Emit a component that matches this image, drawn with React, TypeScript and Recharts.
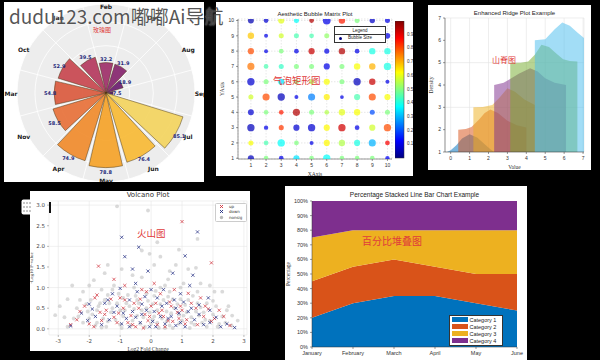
import React from "react";
import {
  RadialBarChart,
  RadialBar,
  PolarAngleAxis,
  PolarRadiusAxis,
  PolarGrid,
  ScatterChart,
  Scatter,
  ComposedChart,
  AreaChart,
  Area,
  XAxis,
  YAxis,
  ZAxis,
  CartesianGrid,
  ReferenceArea,
  LabelList,
  Cell,
} from "recharts";

// ---------- rose chart ----------
const roseMonths = ["Sep", "Aug", "Dec", "Feb", "Jan", "Oct", "Mar", "Nov", "Apr", "May", "Jun", "Jul"];
const roseValues = [7.5, 18.9, 31.9, 32.2, 39.5, 52.9, 54.8, 58.5, 74.9, 78.8, 76.4, 85.1];
const roseColors = [
  "#4b1369", "#6a1c70", "#86256e", "#9e2f69", "#b43a5e", "#c8474f",
  "#da5a3e", "#e7713a", "#f08b2c", "#f5a329", "#f7ba35", "#f3d45e",
];

// ---------- bubble matrix (rows from y = 10 down to y = 1) ----------
const bubbleColor = [
  [0.05, 0.08, 0.6, 0.38, 0.95, 0.1, 0.85, 0.5, 0.07, 0.1],
  [0.68, 0.1, 0.58, 0.45, 0.45, 0.52, 0.92, 0.5, 0.48, 0.1],
  [0.8, 0.1, 0.5, 0.1, 0.93, 0.1, 0.95, 0.1, 0.4, 0.4],
  [0.76, 0.45, 0.43, 0.5, 0.5, 0.1, 0.5, 0.62, 0.7, 0.4],
  [0.08, 0.5, 0.35, 0.5, 0.55, 0.62, 0.5, 0.06, 0.93, 0.1],
  [0.58, 0.8, 0.06, 0.1, 0.25, 0.64, 0.1, 0.45, 0.8, 0.62],
  [0.08, 0.5, 0.85, 0.95, 0.5, 0.55, 0.6, 0.62, 0.2, 0.5],
  [0.06, 0.1, 0.82, 0.08, 0.08, 0.63, 0.92, 0.1, 0.58, 0.8],
  [0.62, 0.45, 0.38, 0.5, 0.1, 0.63, 0.55, 0.4, 0.3, 0.88],
  [0.06, 0.5, 0.1, 0.35, 0.5, 0.38, 0.5, 0.5, 0.5, 0.12],
];
const bubbleSize = [
  [0.45, 0.25, 0.5, 0.3, 0.25, 0.85, 0.55, 0.3, 0.35, 0.3],
  [0.55, 0.15, 0.3, 0.3, 0.25, 0.3, 0.25, 0.3, 0.3, 0.4],
  [0.5, 0.15, 0.25, 0.25, 0.5, 0.3, 0.55, 0.25, 0.55, 0.55],
  [0.7, 0.25, 0.3, 0.3, 0.3, 0.5, 0.3, 0.55, 0.55, 0.75],
  [0.75, 0.3, 0.5, 0.3, 0.3, 0.5, 0.3, 0.75, 0.55, 0.15],
  [0.3, 0.7, 0.75, 0.15, 0.7, 0.5, 0.12, 0.5, 0.7, 0.5],
  [0.45, 0.25, 0.25, 0.7, 0.3, 0.25, 0.55, 0.55, 0.3, 0.3],
  [0.75, 0.2, 0.3, 0.5, 0.75, 0.5, 0.75, 0.25, 0.5, 0.75],
  [0.3, 0.25, 0.75, 0.25, 0.15, 0.5, 0.55, 0.5, 0.7, 0.25],
  [0.5, 0.25, 0.25, 0.5, 0.25, 0.75, 0.25, 0.25, 0.25, 0.2],
];
const bubbleTicks = [1, 2, 3, 4, 5, 6, 7, 8, 9, 10];
const colorbarTicks = [0.1, 0.2, 0.3, 0.4, 0.5, 0.6, 0.7, 0.8, 0.9];

// ---------- ridge plot ----------
const ridgeXs = [
  [-0.2, 0, 0.3, 0.6, 1.0, 1.4, 1.8, 2.1, 2.3],
  [0.4, 0.4, 0.8, 1.1, 1.5, 1.8, 2.1, 2.5, 3.0, 3.5, 4.0, 4.0],
  [1.2, 1.2, 1.7, 2.2, 2.6, 3.0, 3.4, 3.9, 4.45, 4.45],
  [2.3, 2.3, 2.8, 3.1, 3.6, 4.2, 4.6, 5.0, 5.5, 6.1, 6.1],
  [3.15, 3.15, 3.7, 4.1, 4.45, 4.8, 5.2, 5.6, 5.95, 6.3, 6.7, 6.7],
  [4.45, 4.45, 5.0, 5.5, 5.9, 6.3, 6.7, 7.05, 7.05],
];
const ridgeYs = [
  [1, 1.08, 1.3, 1.6, 1.8, 1.65, 1.35, 1.12, 1],
  [1, 2.0, 2.03, 2.12, 2.45, 2.75, 2.9, 2.75, 2.4, 2.2, 2.1, 1],
  [1, 3.0, 3.02, 3.1, 3.45, 3.85, 3.7, 3.35, 3.1, 1],
  [1, 4.0, 4.1, 4.25, 4.5, 4.75, 4.6, 4.3, 4.1, 4.0, 1],
  [1, 5.0, 5.0, 5.05, 5.35, 5.8, 5.7, 5.4, 5.15, 5.08, 5.05, 1],
  [1, 6.0, 6.05, 6.5, 6.8, 6.65, 6.35, 6.1, 1],
];
const ridgeColors = ["#0072BD", "#D95319", "#EDB120", "#7E2F8E", "#77AC30", "#4DBEEE"];
const ridgeXTicks = [0, 1, 2, 3, 4, 5, 6, 7];
const ridgeYTicks = [1, 2, 3, 4, 5, 6, 7];

// ---------- volcano ----------
const volcanoNonsig = [
  [-1.1, 2.97], [-0.1, 2.87], [1.5, 2.18], [0.2, 2.1], [-0.05, 1.82], [-0.3, 1.9], [0.3, 1.75], [0.9, 1.92],
  [0.8, 1.55], [-1.4, 1.55], [-0.95, 1.45], [-1.5, 1.35], [1.45, 1.48], [1.9, 1.05], [2.0, 0.68], [-2.0, 1.05],
  [-2.55, 1.05], [-2.7, 0.72], [-2.95, 0.55], [-3.1, 0.33], [-2.8, 0.28], [2.5, 0.55], [2.62, 0.32], [2.8, 0.2],
  [2.3, 0.9], [-2.2, 0.9], [-1.85, 1.18], [1.2, 1.45], [0.55, 1.2], [-0.6, 1.3], [0.1, 1.55], [-1.2, 1.05],
  [0.6, 1.4], [1.6, 1.1], [-0.3, 1.25], [0.45, 1.05], [-1.6, 0.95], [1.05, 1.1],
  [-2.4, 0.5], [-2.1, 0.6], [-1.9, 0.35], [-1.7, 0.55], [-1.5, 0.7], [-1.3, 0.4], [-1.1, 0.62], [-0.9, 0.3],
  [-0.7, 0.55], [-0.5, 0.8], [-0.3, 0.45], [-0.1, 0.68], [0.1, 0.3], [0.3, 0.6], [0.5, 0.42], [0.7, 0.72],
  [0.9, 0.35], [1.1, 0.58], [1.3, 0.28], [1.5, 0.62], [1.7, 0.4], [1.9, 0.2], [2.1, 0.55], [2.3, 0.3],
  [-2.2, 0.15], [-1.8, 0.08], [-1.4, 0.18], [-1.0, 0.1], [-0.6, 0.2], [-0.2, 0.05], [0.2, 0.15], [0.6, 0.08],
  [1.0, 0.2], [1.4, 0.1], [1.8, 0.05], [2.2, 0.12], [-1.55, 0.25], [-1.25, 0.5], [-0.85, 0.45], [-0.45, 0.32],
  [-0.05, 0.4], [0.35, 0.25], [0.75, 0.5], [1.15, 0.4], [1.55, 0.32], [-0.15, 0.85], [0.15, 0.92], [0.55, 0.78],
  [-0.75, 0.82], [-1.05, 0.85], [0.95, 0.72], [1.35, 0.8], [-1.95, 0.7], [2.05, 0.9], [-2.5, 0.25], [2.45, 0.45],
  [-0.35, 0.12], [0.05, 0.22], [0.45, 0.02], [-0.95, 0.02], [1.25, 0.02], [-1.6, 0.03], [1.65, 0.15], [-2.0, 0.25],
  [-2.3, 0.7], [-2.05, 0.42], [-1.75, 0.15], [-1.65, 0.62], [-1.45, 0.05], [-1.35, 0.62], [-1.15, 0.22], [-1.0, 0.45],
  [-0.8, 0.62], [-0.65, 0.08], [-0.55, 0.48], [-0.4, 0.62], [-0.25, 0.28], [-0.15, 0.5], [0.0, 0.12], [0.05, 0.6],
  [0.2, 0.45], [0.25, 0.02], [0.4, 0.7], [0.5, 0.18], [0.65, 0.38], [0.7, 0.02], [0.85, 0.6], [0.9, 0.12],
  [1.05, 0.32], [1.2, 0.7], [1.3, 0.15], [1.45, 0.42], [1.6, 0.52], [1.75, 0.22], [2.0, 0.35], [2.15, 0.05],
  [2.4, 0.15], [-2.7, 0.05], [-1.25, 0.95], [-0.55, 1.0], [0.3, 1.0], [0.95, 1.0], [-1.75, 0.45], [1.8, 0.62],
  [-0.9, 0.75], [0.1, 0.8], [-0.45, 0.7], [0.6, 0.9], [1.5, 0.9], [-1.4, 0.82], [-2.35, 0.3], [2.6, 0.08],
];
const volcanoUp = [
  [1.0, 2.6], [-1.7, 1.52], [1.95, 1.6], [-1.75, 0.82], [-1.82, 0.75], [-0.3, 0.95], [-0.15, 0.9], [0.3, 0.85],
  [1.2, 0.86], [-1.2, 1.2], [-1.0, 0.75], [2.2, 0.45], [-2.3, 0.42], [-2.6, 0.1], [2.55, 0.08], [0.1, 1.1],
  [-0.55, 0.62], [0.65, 0.55], [1.45, 0.5], [-1.45, 0.45], [-0.9, 0.5], [0.85, 0.4], [-0.2, 0.35], [0.4, 0.3],
  [1.7, 0.3], [-1.6, 0.2], [-2.0, 0.12], [1.95, 0.18], [-0.75, 0.15], [0.2, 0.1], [1.1, 0.12], [-1.2, 0.28],
  [0.55, 0.2], [-0.4, 0.5], [1.3, 0.62], [-1.3, 0.72], [0.0, 0.55], [-0.65, 0.32], [0.9, 0.25], [2.35, 0.3],
  [-2.15, 0.55], [1.6, 0.75], [-0.1, 0.2], [0.75, 0.95], [-0.85, 1.05], [0.35, 0.45], [-1.05, 0.38], [1.85, 0.48],
  [-0.5, 0.05], [0.6, 0.65], [-1.5, 0.35], [-1.1, 0.15], [-0.85, 0.7], [-0.6, 0.1], [-0.35, 0.72], [-0.05, 0.3],
  [0.15, 0.62], [0.45, 0.05], [0.7, 0.18], [1.0, 0.45], [1.15, 0.22], [1.5, 0.1], [1.75, 0.55], [2.05, 0.25],
  [-1.85, 0.05], [-2.4, 0.22], [0.25, 0.38], [-0.25, 0.02], [0.95, 0.55], [-1.65, 0.4],
];
const volcanoDown = [
  [1.5, 2.35], [-0.95, 2.22], [-0.4, 1.98], [1.1, 1.77], [-0.85, 1.75], [-0.6, 1.45], [-0.1, 1.4], [0.7, 1.35],
  [1.35, 1.3], [-0.5, 1.1], [-1.0, 0.98], [0.0, 0.95], [0.95, 0.85], [1.85, 0.75], [1.9, 0.45], [-2.25, 0.38],
  [-2.6, 0.07], [2.45, 0.12], [2.7, 0.03], [-1.5, 0.62], [-1.1, 0.55], [-0.7, 0.7], [-0.3, 0.6], [0.2, 0.75],
  [0.5, 0.62], [0.8, 0.5], [1.2, 0.42], [1.55, 0.58], [-1.8, 0.3], [-1.35, 0.22], [-0.8, 0.25], [-0.35, 0.15],
  [0.1, 0.42], [0.45, 0.12], [0.95, 0.15], [1.4, 0.22], [-1.9, 0.48], [-0.05, 0.05], [0.3, 0.3], [-0.6, 0.42],
  [0.65, 0.3], [1.05, 0.65], [-1.25, 0.85], [-0.2, 0.78], [1.7, 0.1], [-2.05, 0.2], [2.1, 0.28], [0.8, 0.08],
  [-0.95, 0.12], [-0.45, 0.9], [0.4, 0.95], [1.25, 1.05], [-1.6, 0.1], [-1.2, 0.4], [-0.9, 0.38], [-0.7, 0.05],
  [-0.5, 0.28], [-0.15, 0.45], [0.05, 0.18], [0.35, 0.55], [0.55, 0.25], [0.75, 0.7], [1.1, 0.05], [1.3, 0.5],
  [1.55, 0.35], [1.9, 0.15], [-2.0, 0.6], [-1.4, 0.7], [0.15, 0.05], [-0.3, 0.35], [0.9, 0.38], [2.25, 0.05],
];
const volcanoXTicks = [-3, -2, -1, 0, 1, 2, 3];
const volcanoYTicks = [0, 0.5, 1, 1.5, 2, 2.5, 3];

// ---------- percentage stacked area ----------
const stackMonths = ["January", "February", "March", "April", "May", "June"];
const category1 = [20, 30, 35, 35, 30, 25];
const category2 = [25, 25, 25, 20, 20, 25];
const category3 = [30, 25, 20, 25, 30, 30];
const category4 = [25, 20, 20, 20, 20, 20];
const stackNames = ["Category 1", "Category 2", "Category 3", "Category 4"];
const stackColors = ["#0072BD", "#D95319", "#EDB120", "#7E2F8E"];
const percentTicks = [0, 0.1, 0.2, 0.3, 0.4, 0.5, 0.6, 0.7, 0.8, 0.9, 1];

const RED = "#df3b3b";
const CJK = "'Noto Sans CJK SC', sans-serif";
const MATLAB_FONT = "'Liberation Sans', Arial, sans-serif";

const panel = (left: number, top: number, width: number, height: number): React.CSSProperties => ({
  position: "absolute",
  left,
  top,
  width,
  height,
  background: "#fff",
  overflow: "hidden",
});

const tag = (left: number, top: number, size: number): React.CSSProperties => ({
  position: "absolute",
  left,
  top,
  fontSize: size,
  color: RED,
  fontFamily: CJK,
  lineHeight: 1,
  whiteSpace: "nowrap",
});

const jet = (v: number) => {
  const c = (t: number) => Math.round(Math.max(0, Math.min(1, t)) * 255);
  return `rgb(${c(1.5 - Math.abs(4 * v - 3))},${c(1.5 - Math.abs(4 * v - 2))},${c(1.5 - Math.abs(4 * v - 1))})`;
};

// ---------- panel 1 ----------
const ROSE_CX = 102;
const ROSE_CY = 91;
const ROSE_BAND = 360 / roseMonths.length;

const RoseTick = (props: any) => {
  // tick coordinate sits at the band start, labels go to the band centre
  const a = ((props.payload.coordinate + ROSE_BAND / 2) * Math.PI) / 180;
  const x = ROSE_CX + 95 * Math.cos(a);
  const y = ROSE_CY - 87 * Math.sin(a);
  return (
    <text x={x} y={y} textAnchor="middle" dominantBaseline="central" fontSize={6} fontWeight="bold" fill="#222" fontFamily="DejaVu Sans">
      {props.payload.value}
    </text>
  );
};

const RoseValueLabel = (props: any) => {
  const vb = props.viewBox && props.viewBox.cx != null ? props.viewBox : props;
  if (vb.startAngle == null) return null;
  const mid = (((vb.startAngle + vb.endAngle) / 2) * Math.PI) / 180;
  const r = vb.outerRadius + 4;
  return (
    <text x={vb.cx + r * Math.cos(mid)} y={vb.cy - r * Math.sin(mid)} textAnchor="middle" dominantBaseline="central" fontSize={5} fontWeight="bold" fill="#25287a" fontFamily="DejaVu Sans">
      {Number(props.value).toFixed(1)}
    </text>
  );
};

function RosePanel() {
  const data = roseMonths.map((m, i) => ({ month: m, value: roseValues[i] }));
  return (
    <div style={panel(4, 2, 200, 180)}>
      <div style={{ position: "absolute", left: ROSE_CX - 89, top: ROSE_CY - 89, width: 178, height: 178, borderRadius: "50%", background: "#ededed" }} />
      <div style={{ position: "absolute", left: 0, top: 0 }}>
        <RadialBarChart
          width={200}
          height={180}
          data={data}
          cx={ROSE_CX}
          cy={ROSE_CY}
          innerRadius={0}
          outerRadius={89}
          startAngle={15}
          endAngle={375}
          layout="centric"
          barCategoryGap="6%"
          margin={{ top: 0, right: 0, bottom: 0, left: 0 }}
        >
          <PolarGrid gridType="circle" stroke="#ffffff" strokeWidth={0.8} />
          <PolarAngleAxis type="category" dataKey="month" tick={RoseTick} tickLine={false} axisLine={false} tickSize={1} />
          <PolarRadiusAxis type="number" domain={[0, 94]} tick={false} axisLine={false} />
          <RadialBar dataKey="value" isAnimationActive={false} stroke="#4a3410" strokeOpacity={0.6} strokeWidth={0.8} fillOpacity={0.92}>
            {data.map((d, i) => (
              <Cell key={d.month} fill={roseColors[i]} />
            ))}
            <LabelList dataKey="value" content={RoseValueLabel} />
          </RadialBar>
        </RadialBarChart>
      </div>
      <div style={tag(89, 25, 6)}>玫瑰图</div>
    </div>
  );
}

// ---------- panel 2 ----------
function BubblePanel() {
  const points = bubbleColor.flatMap((row, r) =>
    row.map((c, col) => ({ x: col + 1, y: 10 - r, c, s: bubbleSize[r][col] }))
  );
  const axisTick = { fontSize: 5, fill: "#333", fontFamily: MATLAB_FONT };
  return (
    <div style={panel(216, 2, 197, 174)}>
      <div style={{ position: "absolute", left: 0, width: 198, top: 9, textAlign: "center", fontSize: 6, fontFamily: MATLAB_FONT, color: "#222", lineHeight: 1 }}>
        Aesthetic Bubble Matrix Plot
      </div>
      <div style={{ position: "absolute", left: 0, top: 0 }}>
        <ScatterChart width={197} height={174} margin={{ top: 17, right: 21, bottom: 0, left: 0 }}>
          <CartesianGrid stroke="#cfcfcf" strokeDasharray="1.5 1.5" strokeWidth={0.5} />
          <XAxis
            type="number"
            dataKey="x"
            domain={[0.15, 10.3]}
            ticks={bubbleTicks}
            allowDataOverflow
            height={17}
            tick={axisTick}
            tickSize={2}
            axisLine={{ stroke: "#333", strokeWidth: 0.5 }}
            tickLine={{ stroke: "#333", strokeWidth: 0.5 }}
            label={{ value: "XAxis", position: "insideBottom", offset: 0, fontSize: 5.5, fill: "#333" }}
          />
          <YAxis
            type="number"
            dataKey="y"
            domain={[0.95, 10.1]}
            ticks={bubbleTicks}
            allowDataOverflow
            width={22}
            tick={axisTick}
            tickSize={2}
            axisLine={{ stroke: "#333", strokeWidth: 0.5 }}
            tickLine={{ stroke: "#333", strokeWidth: 0.5 }}
            label={{ value: "YAxis", angle: -90, position: "insideLeft", offset: 6, fontSize: 5.5, fill: "#333", style: { textAnchor: "middle" } }}
          />
          <ZAxis type="number" dataKey="s" domain={[0, 1]} range={[5, 55]} />
          <ReferenceArea fill="none" stroke="#333" strokeWidth={0.5} ifOverflow="visible" />
          <Scatter data={points} isAnimationActive={false} fillOpacity={0.72}>
            {points.map((p, i) => (
              <Cell key={i} fill={jet(p.c)} />
            ))}
          </Scatter>
        </ScatterChart>
      </div>
      <svg style={{ position: "absolute", left: 179, top: 19 }} width={18} height={140}>
        <defs>
          <linearGradient id="jetbar" x1="0" y1="1" x2="0" y2="0">
            {[0, 0.125, 0.25, 0.375, 0.5, 0.625, 0.75, 0.875, 1].map((t) => (
              <stop key={t} offset={t} stopColor={jet(t)} />
            ))}
          </linearGradient>
        </defs>
        <rect x={0} y={0} width={9} height={137} fill="url(#jetbar)" stroke="#333" strokeWidth={0.5} />
      </svg>
      {colorbarTicks.map((t) => (
        <div key={t} style={{ position: "absolute", left: 191, top: 19 + 137 * (1 - t) - 3, fontSize: 4.5, fontFamily: MATLAB_FONT, color: "#333", lineHeight: "6px" }}>
          {t.toFixed(1)}
        </div>
      ))}
      <div style={{ position: "absolute", left: 118, top: 24, width: 50, height: 15, background: "#fff", border: "0.6px solid #333", fontFamily: MATLAB_FONT, fontSize: 4.5, color: "#222", lineHeight: 1 }}>
        <div style={{ textAlign: "center", height: 7, lineHeight: "7px", borderBottom: "0.6px solid #333" }}>Legend</div>
        <div style={{ display: "flex", alignItems: "center", height: 7, paddingLeft: 4 }}>
          <span style={{ width: 3, height: 3, borderRadius: "50%", background: "#00007f", display: "inline-block", marginRight: 6 }} />
          Bubble Size
        </div>
      </div>
      <div style={tag(57, 74, 9.5)}>气泡矩形图</div>
    </div>
  );
}

// ---------- panel 3 ----------
function RidgePanel() {
  const ridges = ridgeXs.map((xs, i) => xs.map((x, j) => ({ x, y: ridgeYs[i][j] })));
  const axisTick = { fontSize: 5, fill: "#333", fontFamily: MATLAB_FONT };
  return (
    <div style={panel(428, 5, 163, 165)}>
      <div style={{ position: "absolute", left: 17, width: 139, top: 5, textAlign: "center", fontSize: 6, fontFamily: MATLAB_FONT, color: "#222", lineHeight: 1 }}>
        Enhanced Ridge Plot Example
      </div>
      <div style={{ position: "absolute", left: 0, top: 0 }}>
        <ComposedChart width={163} height={165} margin={{ top: 13, right: 7, bottom: 0, left: 0 }}>
          <CartesianGrid stroke="#e2e2e2" strokeWidth={0.6} />
          <XAxis
            type="number"
            dataKey="x"
            domain={[-0.3, 7.05]}
            ticks={ridgeXTicks}
            allowDataOverflow
            height={18}
            tick={axisTick}
            tickSize={2}
            axisLine={{ stroke: "#333", strokeWidth: 0.5 }}
            tickLine={{ stroke: "#333", strokeWidth: 0.5 }}
            label={{ value: "Value", position: "insideBottom", offset: 1, fontSize: 5.5, fill: "#333" }}
          />
          <YAxis
            type="number"
            domain={[1, 7]}
            ticks={ridgeYTicks}
            allowDataOverflow
            width={17}
            tick={axisTick}
            tickSize={2}
            axisLine={{ stroke: "#333", strokeWidth: 0.5 }}
            tickLine={{ stroke: "#333", strokeWidth: 0.5 }}
            label={{ value: "Density", angle: -90, position: "insideLeft", offset: 3, fontSize: 5.5, fill: "#333", style: { textAnchor: "middle" } }}
          />
          {ridges.map((r, i) => (
            <Area
              key={i}
              data={r}
              dataKey="y"
              type="linear"
              baseValue={1}
              fill={ridgeColors[i]}
              fillOpacity={0.52}
              stroke="none"
              isAnimationActive={false}
            />
          ))}
          <ReferenceArea fill="none" stroke="#333" strokeWidth={0.5} ifOverflow="visible" />
        </ComposedChart>
      </div>
      <div style={tag(64, 51, 8)}>山脊图</div>
    </div>
  );
}

// ---------- panel 4 ----------
const makeX = (color: string) => (props: any) => {
  const { cx, cy } = props;
  const d = 1.6;
  return (
    <path d={`M${cx - d},${cy - d}L${cx + d},${cy + d}M${cx - d},${cy + d}L${cx + d},${cy - d}`} stroke={color} strokeWidth={0.9} strokeOpacity={0.8} fill="none" />
  );
};
const RedX = makeX("#d0313a");
const NavyX = makeX("#1f2a80");
const GrayDot = (props: any) => <circle cx={props.cx} cy={props.cy} r={1.9} fill="#b5b5b5" fillOpacity={0.5} />;

function VolcanoPanel() {
  const toPts = (arr: number[][]) => arr.map(([x, y]) => ({ x, y }));
  const axisTick = { fontSize: 5.5, fill: "#444", fontFamily: "DejaVu Sans" };
  return (
    <div style={panel(30, 191, 220, 160)}>
      <div style={{ position: "absolute", left: 19, width: 198, top: 1, textAlign: "center", fontSize: 7, fontFamily: "DejaVu Sans", color: "#333", lineHeight: 1 }}>
        Volcano Plot
      </div>
      <div style={{ position: "absolute", left: 0, top: 0 }}>
        <ScatterChart width={220} height={160} margin={{ top: 10, right: 3, bottom: 0, left: 0 }}>
          <CartesianGrid stroke="#e6e6e6" strokeWidth={0.6} />
          <XAxis
            type="number"
            dataKey="x"
            domain={[-3.3, 3.1]}
            ticks={volcanoXTicks}
            allowDataOverflow
            height={16}
            tick={axisTick}
            tickSize={2}
            axisLine={false}
            tickLine={{ stroke: "#777", strokeWidth: 0.5 }}
            label={{ value: "Log2 Fold Change", position: "insideBottom", offset: 0, fontSize: 5.5, fill: "#333" }}
          />
          <YAxis
            type="number"
            dataKey="y"
            domain={[-0.15, 3.1]}
            ticks={volcanoYTicks}
            tickFormatter={(v: number) => v.toFixed(1)}
            allowDataOverflow
            width={19}
            tick={axisTick}
            tickSize={2}
            axisLine={false}
            tickLine={{ stroke: "#777", strokeWidth: 0.5 }}
            label={{ value: "-Log10 P-value", angle: -90, position: "insideLeft", offset: 1, fontSize: 5, fill: "#333", style: { textAnchor: "middle" } }}
          />
          <ReferenceArea fill="none" stroke="#bdbdbd" strokeWidth={0.6} ifOverflow="visible" />
          <Scatter data={toPts(volcanoNonsig)} shape={GrayDot} isAnimationActive={false} />
          <Scatter data={toPts(volcanoUp)} shape={RedX} isAnimationActive={false} />
          <Scatter data={toPts(volcanoDown)} shape={NavyX} isAnimationActive={false} />
        </ScatterChart>
      </div>
      <div style={{ position: "absolute", left: 19, top: 11, width: 2, height: 11, background: "#111" }} />
      <div style={{ position: "absolute", left: 185, top: 12, width: 30, height: 17, background: "#fff", border: "0.6px solid #ccc", borderRadius: 1.5, fontFamily: "DejaVu Sans", fontSize: 4, color: "#333" }}>
        {[
          { name: "up", mark: <path d="M1,1L4,4M1,4L4,1" stroke="#d0313a" strokeWidth={0.9} /> },
          { name: "down", mark: <path d="M1,1L4,4M1,4L4,1" stroke="#1f2a80" strokeWidth={0.9} /> },
          { name: "nonsig", mark: <circle cx={2.5} cy={2.5} r={1.7} fill="#b9b9b9" /> },
        ].map((e) => (
          <div key={e.name} style={{ display: "flex", alignItems: "center", height: 5.3, paddingLeft: 3 }}>
            <svg width={5} height={5} style={{ marginRight: 5 }}>{e.mark}</svg>
            {e.name}
          </div>
        ))}
      </div>
      <div style={tag(107, 38, 9.5)}>火山图</div>
    </div>
  );
}

// ---------- panel 5 ----------
function StackPanel() {
  const data = stackMonths.map((m, i) => ({ month: m, c1: category1[i], c2: category2[i], c3: category3[i], c4: category4[i] }));
  const axisTick = { fontSize: 5.5, fill: "#333", fontFamily: MATLAB_FONT };
  return (
    <div style={panel(285, 186, 242, 174)}>
      <div style={{ position: "absolute", left: 27, width: 205, top: 6, textAlign: "center", fontSize: 6.5, fontFamily: MATLAB_FONT, color: "#222", lineHeight: 1 }}>
        Percentage Stacked Line Bar Chart Example
      </div>
      <div style={{ position: "absolute", left: 0, top: 0 }}>
        <AreaChart width={242} height={174} data={data} stackOffset="expand" margin={{ top: 15, right: 10, bottom: 0, left: 0 }}>
          <XAxis
            dataKey="month"
            interval={0}
            height={13}
            tick={axisTick}
            tickSize={2}
            axisLine={{ stroke: "#333", strokeWidth: 0.5 }}
            tickLine={{ stroke: "#333", strokeWidth: 0.5 }}
          />
          <YAxis
            type="number"
            domain={[0, 1]}
            ticks={percentTicks}
            tickFormatter={(v: number) => `${Math.round(v * 100)}%`}
            width={27}
            tick={axisTick}
            tickSize={2}
            axisLine={{ stroke: "#333", strokeWidth: 0.5 }}
            tickLine={{ stroke: "#333", strokeWidth: 0.5 }}
            label={{ value: "Percentage", angle: -90, position: "insideLeft", offset: 3, fontSize: 5.5, fill: "#333", style: { textAnchor: "middle" } }}
          />
          {["c1", "c2", "c3", "c4"].map((k, i) => (
            <Area
              key={k}
              type="linear"
              dataKey={k}
              stackId="pct"
              fill={stackColors[i]}
              fillOpacity={1}
              stroke="none"
              isAnimationActive={false}
            />
          ))}
          <ReferenceArea fill="none" stroke="#333" strokeWidth={0.5} ifOverflow="visible" />
        </AreaChart>
      </div>
      <div style={{ position: "absolute", left: 164, top: 129, width: 52, height: 29, background: "#fff", border: "0.7px solid #333", fontFamily: MATLAB_FONT, fontSize: 5.5, color: "#222" }}>
        {stackNames.map((n, i) => (
          <div key={n} style={{ display: "flex", alignItems: "center", height: 7, paddingLeft: 1.5 }}>
            <span style={{ width: 16, height: 5.5, background: stackColors[i], display: "inline-block", marginRight: 2 }} />
            {n}
          </div>
        ))}
      </div>
      <div style={tag(77, 50, 10)}>百分比堆叠图</div>
    </div>
  );
}

export default function App() {
  return (
    <div style={{ position: "absolute", left: 0, top: 0, width: 600, height: 360, background: "#000", overflow: "hidden" }}>
      <RosePanel />
      <BubblePanel />
      <RidgePanel />
      <VolcanoPanel />
      <StackPanel />
      <svg style={{ position: "absolute", left: 21, top: 199 }} width={12} height={16}>
        <rect x={0.5} y={0.5} width={11} height={15} rx={2} fill="#fff" />
        {[0, 1, 2].map((r) =>
          [0, 1, 2].map((c) => <circle key={`${r}-${c}`} cx={3 + c * 3} cy={4 + r * 4} r={0.7} fill="#666" />)
        )}
      </svg>
      <div
        style={{
          position: "absolute",
          left: 9,
          top: 6,
          fontSize: 19,
          fontFamily: CJK,
          color: "rgba(62,62,62,0.88)",
          lineHeight: 1,
          whiteSpace: "nowrap",
          textShadow: "0 0 2px rgba(255,255,255,0.6)",
        }}
      >
        dudu123.com嘟嘟Ai导航
      </div>
    </div>
  );
}
